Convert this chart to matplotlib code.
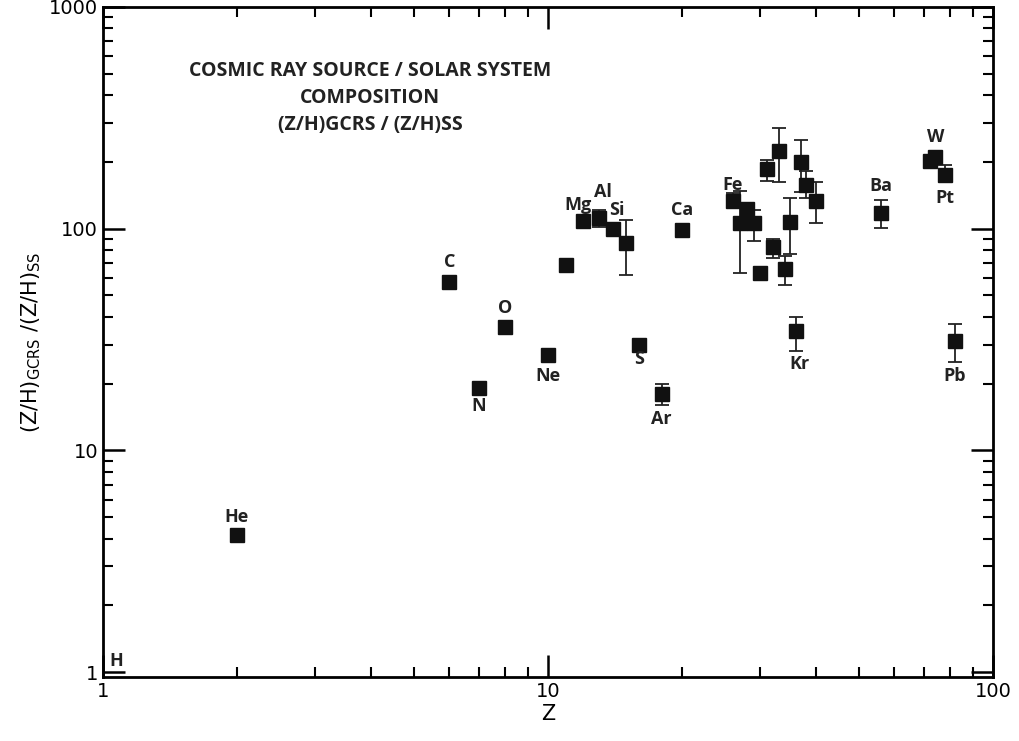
import matplotlib
matplotlib.use("Agg")
import matplotlib.pyplot as plt
from matplotlib.ticker import LogLocator, NullFormatter, FixedLocator, FixedFormatter

Z = [2, 6, 7, 8, 10, 11, 12, 13, 14, 15, 16, 18, 20, 26, 27, 28, 29, 30, 31, 32, 33, 34, 35, 36, 37, 38, 40, 56, 72, 74, 78, 82]
ratio = [4.15, 57.5, 19.1, 36, 27, 68.5, 108, 112, 100, 86, 30, 18, 99, 133, 106, 123, 106, 63, 185, 82.5, 224, 66, 107, 34.4, 200, 158, 134, 118, 202, 211, 175, 31.3]
err_lo = [0, 0, 0, 0, 1, 3, 0, 10, 0, 24, 0, 2, 0, 0, 43, 0, 18, 0, 21, 8.5, 61, 10, 30, 6.4, 53, 21, 28, 17, 0, 0, 11, 6.3]
err_hi = [0, 0, 0, 0, 1, 3, 0, 10, 0, 24, 0, 2, 0, 12, 42, 0, 16, 0, 20, 7.5, 61, 9, 31, 5.6, 50, 24, 29, 17, 0, 0, 19, 5.7]

labels = ["H", "He", "C", "N", "O", "Ne", "Mg", "Al", "Si", "S", "Ar", "Ca", "Fe", "Kr", "Ba", "W", "Pt", "Pb"]
label_z = [1.07, 2.0, 6.0, 7.0, 8.0, 10.0, 11.7, 13.3, 14.3, 16.0, 18.0, 20.0, 26.0, 36.8, 56.0, 74.5, 78.0, 82.0]
label_v = [1.12, 5.0, 71, 15.8, 44, 21.7, 128, 146, 121, 25.7, 13.8, 122, 158, 24.6, 155, 259, 138, 21.7]

fig = plt.figure(figsize=(10.2, 7.41), dpi=100)
ax = fig.add_axes([103/1020, 1-677/741, 890/1020, 670/741])
ax.set_xscale("log"); ax.set_yscale("log")
ax.set_xlim(1, 100); ax.set_ylim(0.95, 1000)

ax.errorbar(Z, ratio, yerr=[err_lo, err_hi], fmt="s", color="#111111", ms=10,
            ecolor="#222222", elinewidth=1.3, capsize=5, capthick=1.3)

for t, zx, v in zip(labels, label_z, label_v):
    ax.text(zx, v, t, ha="center", va="center", fontsize=13, fontweight="bold",
            family="Open Sans", color="#222222")

ax.text(0.30, 0.864, "COSMIC RAY SOURCE / SOLAR SYSTEM\nCOMPOSITION\n(Z/H)GCRS / (Z/H)SS",
        transform=ax.transAxes, ha="center", va="center", fontsize=14,
        fontweight="bold", family="Open Sans", linespacing=1.45, color="#222222")

ax.set_xlabel("Z", fontsize=15, labelpad=2)
ax.set_ylabel(r"(Z/H)$_{\mathrm{GCRS}}$ /(Z/H)$_{\mathrm{SS}}$", fontsize=15, labelpad=4)
ax.xaxis.set_major_locator(FixedLocator([1, 10, 100]))
ax.xaxis.set_major_formatter(FixedFormatter(["1", "10", "100"]))
ax.yaxis.set_major_locator(FixedLocator([1, 10, 100, 1000]))
ax.yaxis.set_major_formatter(FixedFormatter(["1", "10", "100", "1000"]))
for a in (ax.xaxis, ax.yaxis):
    a.set_minor_locator(LogLocator(base=10, subs=range(2, 10)))
    a.set_minor_formatter(NullFormatter())
ax.tick_params(which="both", direction="in", top=True, right=True, labelsize=14)
ax.tick_params(which="major", length=16, width=1.8)
ax.tick_params(which="minor", length=7, width=1.5)
for s in ax.spines.values():
    s.set_linewidth(2)

fig.savefig("out.png", dpi=100)
